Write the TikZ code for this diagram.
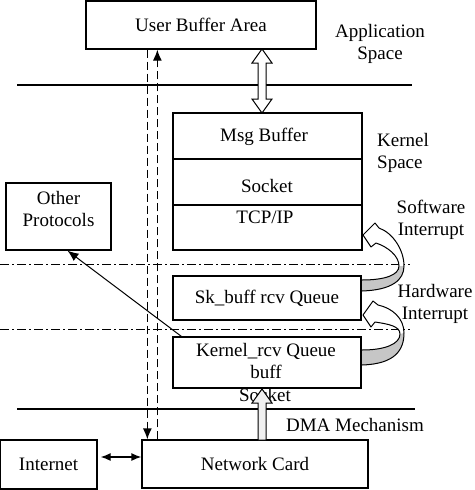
\documentclass[tikz,border=0pt]{standalone}
\usepackage{fontspec}
\setmainfont{Liberation Serif}
\usetikzlibrary{arrows.meta}
\begin{document}
\begin{tikzpicture}[x=1pt,y=-1pt,
  bx/.style={draw, line width=1.3pt, fill=white, inner sep=0pt},
  lbl/.style={font=\fontsize{19}{22}\selectfont, inner sep=0pt, align=center},
  hline/.style={line width=1.2pt},
  ddot/.style={dash pattern=on 9pt off 3pt on 2pt off 3pt, line width=0.9pt},
  dsh/.style={dash pattern=on 8pt off 4pt, line width=1.3pt},
  arrowhd/.style={-{Latex[length=11pt,width=9pt]}},
  hollow/.style={draw, line width=1pt, fill=white},
  ribbon/.style={draw, line width=1pt, line join=round}]
\useasboundingbox (0,0) rectangle (474,490);

% separating lines
\draw[hline] (17,85) -- (412,85);
\draw[hline] (17,409) -- (415,409);
\draw[ddot] (0,264) -- (410,264);
\draw[ddot] (0,329) -- (410,329);

% boxes
\node[bx, minimum width=230pt, minimum height=48pt, lbl] (ub) at (201,25) {User Buffer Area};
\node[bx, minimum width=189pt, minimum height=46pt] (msg) at (267.5,136) {};
\node[bx, minimum width=189pt, minimum height=46pt] (sock) at (267.5,182) {};
\node[bx, minimum width=189pt, minimum height=45pt] (tcp) at (267.5,227.5) {};
\node[lbl] (msgt) at (264,137) {Msg Buffer};
\node[lbl] (sockt) at (267,186) {Socket};
\node[lbl] (tcpt) at (265,217) {TCP/IP};
\node[bx, minimum width=188pt, minimum height=44pt, lbl] (skb) at (267,298) {Sk\_buff rcv Queue};
\node[bx, minimum width=188pt, minimum height=51pt] (krq) at (267,362.5) {};
\node[lbl] (krqt) at (266,361) {Kernel\_rcv Queue\\buff};
\node[bx, minimum width=105pt, minimum height=67pt] (op) at (58.5,216.5) {};
\node[lbl] (opt) at (58.5,209) {Other\\Protocols};
\node[bx, minimum width=226pt, minimum height=48pt, lbl] (nc) at (255,464) {Network Card};
\node[bx, minimum width=97pt, minimum height=49pt, lbl] (inet) at (48.5,464.5) {Internet};

% side labels
\node[lbl] (app) at (380,44) {Application\\Space};
\node[lbl, anchor=west, align=left] (ks) at (377,153) {Kernel\\Space};
\node[lbl] (swi) at (431,220) {Software\\Interrupt};
\node[lbl] (hwi) at (435,304) {Hardware\\Interrupt};
\node[lbl] (dma) at (355,425) {DMA Mechanism};
\node[lbl] (sockl) at (265,395) {Socket};

% dashed arrows
\draw[dsh, arrowhd] ([xshift=62pt]ub.south west) -- ([xshift=6pt]nc.north west);
\draw[dsh, arrowhd] ([xshift=16pt]nc.north west) -- ([xshift=72pt]ub.south west);

% other protocols arrow
\draw[line width=1pt, arrowhd] ([xshift=9pt]krq.north west) -- ([xshift=9pt]op.south);

% internet arrow
\draw[line width=1.3pt, {Latex[length=10pt,width=8pt]}-{Latex[length=10pt,width=8pt]}]
  ([shift={(3,-7.5)}]inet.east) -- ([shift={(0,-7)}]nc.west);

% hollow double arrow between user buffer and msg buffer
\draw[hollow]
  (262,49) -- (272,63) -- (266,63) -- (266,99) -- (272,99) -- (262,113)
  -- (252,99) -- (258,99) -- (258,63) -- (252,63) -- cycle;

% DMA hollow arrow
\draw[hollow, fill=gray!12] (262,389) -- (272,403) -- (266,403) -- (266,440)
  -- (258,440) -- (258,403) -- (252,403) -- cycle;

% software interrupt ribbon
\fill[white] (362,291) .. controls (392,290) and (404,280) .. (404,266)
  .. controls (404,250) and (393,233) .. (379,228)
  -- (375,223) -- (363,235) -- (371,247) -- (376,243)
  .. controls (388,247) and (399,256) .. (399,266)
  .. controls (399,275) and (385,280) .. (362,280) -- cycle;
\fill[gray!45] (362,291) .. controls (392,290) and (404,280) .. (404,266)
  -- (399,266) .. controls (399,275) and (385,280) .. (362,280) -- cycle;
\draw[ribbon] (362,291) .. controls (392,290) and (404,280) .. (404,266)
  .. controls (404,250) and (393,233) .. (379,228)
  -- (375,223) -- (363,235) -- (371,247) -- (376,243)
  .. controls (388,247) and (399,256) .. (399,266)
  .. controls (399,275) and (385,280) .. (362,280);

% hardware interrupt ribbon
\fill[white] (362,365) .. controls (395,364) and (404,350) .. (404,333)
  .. controls (404,318) and (392,308) .. (378,305)
  -- (373,301) -- (363,315) -- (371,327) -- (375,322)
  .. controls (388,324) and (400,326) .. (400,334)
  .. controls (400,344) and (385,350) .. (362,350) -- cycle;
\fill[gray!45] (362,365) .. controls (395,364) and (404,350) .. (404,333)
  -- (400,334) .. controls (400,344) and (385,350) .. (362,350) -- cycle;
\draw[ribbon] (362,365) .. controls (395,364) and (404,350) .. (404,333)
  .. controls (404,318) and (392,308) .. (378,305)
  -- (373,301) -- (363,315) -- (371,327) -- (375,322)
  .. controls (388,324) and (400,326) .. (400,334)
  .. controls (400,344) and (385,350) .. (362,350);
\end{tikzpicture}
\end{document}
